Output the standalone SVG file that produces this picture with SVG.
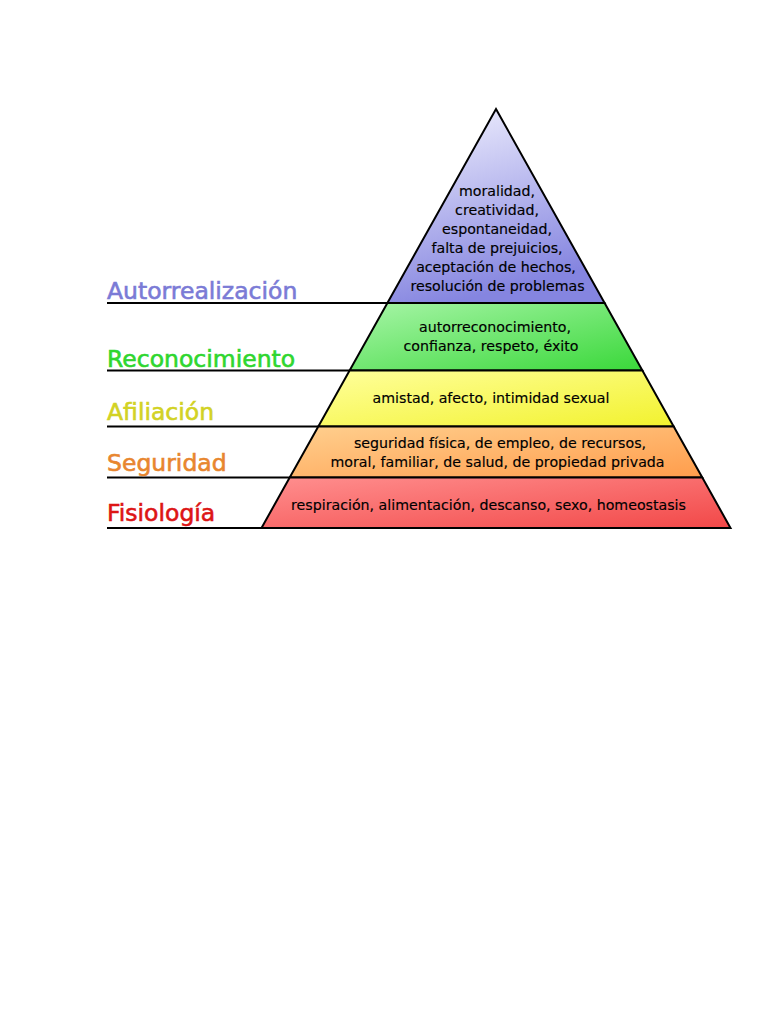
<svg xmlns="http://www.w3.org/2000/svg" width="768" height="1024" viewBox="0 0 768 1024">
  <defs>
    <linearGradient id="gTop" x1="0" y1="0" x2="0.3" y2="1">
      <stop offset="0" stop-color="#f4f4ff"/>
      <stop offset="1" stop-color="#8585e0"/>
    </linearGradient>
    <linearGradient id="gGreen" x1="0" y1="0" x2="1" y2="1">
      <stop offset="0" stop-color="#a8f5a8"/>
      <stop offset="1" stop-color="#3ad83a"/>
    </linearGradient>
    <linearGradient id="gYellow" x1="0" y1="0" x2="1" y2="1">
      <stop offset="0" stop-color="#ffff9c"/>
      <stop offset="1" stop-color="#f2f22e"/>
    </linearGradient>
    <linearGradient id="gOrange" x1="0" y1="0" x2="1" y2="1">
      <stop offset="0" stop-color="#ffcf8e"/>
      <stop offset="1" stop-color="#ff9d4c"/>
    </linearGradient>
    <linearGradient id="gRed" x1="0" y1="0" x2="1" y2="1">
      <stop offset="0" stop-color="#ff8f8f"/>
      <stop offset="1" stop-color="#f24848"/>
    </linearGradient>
  </defs>
  <style>
    .band { stroke: #000; stroke-width: 2; stroke-linejoin: miter; }
    .lead { stroke: #000; stroke-width: 2; fill: none; }
    .inner { font-family: "DejaVu Sans", "Liberation Sans", sans-serif; font-size: 14.2px; fill: #000; stroke: #000; stroke-width: 0.15; text-anchor: middle; }
    .label { font-family: "DejaVu Sans", "Liberation Sans", sans-serif; font-size: 23.5px; stroke-width: 0.6; }
  </style>
  <rect width="768" height="1024" fill="#ffffff"/>

  <g id="leaders">
    <line class="lead" x1="107" y1="303" x2="388" y2="303"/>
    <line class="lead" x1="107" y1="370.5" x2="350" y2="370.5"/>
    <line class="lead" x1="107" y1="426.5" x2="319" y2="426.5"/>
    <line class="lead" x1="107" y1="477.5" x2="290" y2="477.5"/>
    <line class="lead" x1="107" y1="528" x2="262" y2="528"/>
  </g>

  <g id="autorrealizacion">
    <polygon class="band" fill="url(#gTop)" points="496,109 604.6,303 387.4,303"/>
    <text class="inner" x="497" y="196">moralidad,</text>
    <text class="inner" x="497" y="215">creatividad,</text>
    <text class="inner" x="497" y="233.5">espontaneidad,</text>
    <text class="inner" x="497" y="252.5">falta de prejuicios,</text>
    <text class="inner" x="496" y="271.5">aceptación de hechos,</text>
    <text class="inner" x="497.5" y="290.5">resolución de problemas</text>
    <text class="label" x="107" y="299" fill="#7b7bd6" stroke="#7b7bd6">Autorrealización</text>
  </g>

  <g id="reconocimiento">
    <polygon class="band" fill="url(#gGreen)" points="387.4,303 604.6,303 642.4,370.5 349.6,370.5"/>
    <text class="inner" x="495" y="331.5">autorreconocimiento,</text>
    <text class="inner" x="491" y="350.5">confianza, respeto, éxito</text>
    <text class="label" x="107" y="366.5" fill="#2fd62f" stroke="#2fd62f">Reconocimiento</text>
  </g>

  <g id="afiliacion">
    <polygon class="band" fill="url(#gYellow)" points="349.6,370.5 642.4,370.5 673.7,426.5 318.3,426.5"/>
    <text class="inner" x="491" y="403">amistad, afecto, intimidad sexual</text>
    <text class="label" x="107" y="419.5" fill="#d2d224" stroke="#d2d224">Afiliación</text>
  </g>

  <g id="seguridad">
    <polygon class="band" fill="url(#gOrange)" points="318.3,426.5 673.7,426.5 702.3,477.5 289.7,477.5"/>
    <text class="inner" x="500" y="448">seguridad física, de empleo, de recursos,</text>
    <text class="inner" x="497.5" y="466.5">moral, familiar, de salud, de propiedad privada</text>
    <text class="label" x="107" y="471" fill="#e8862f" stroke="#e8862f">Seguridad</text>
  </g>

  <g id="fisiologia">
    <polygon class="band" fill="url(#gRed)" points="289.7,477.5 702.3,477.5 730.5,528 261.5,528"/>
    <text class="inner" x="488.5" y="510">respiración, alimentación, descanso, sexo, homeostasis</text>
    <text class="label" x="107" y="521" fill="#dd1515" stroke="#dd1515">Fisiología</text>
  </g>
</svg>
